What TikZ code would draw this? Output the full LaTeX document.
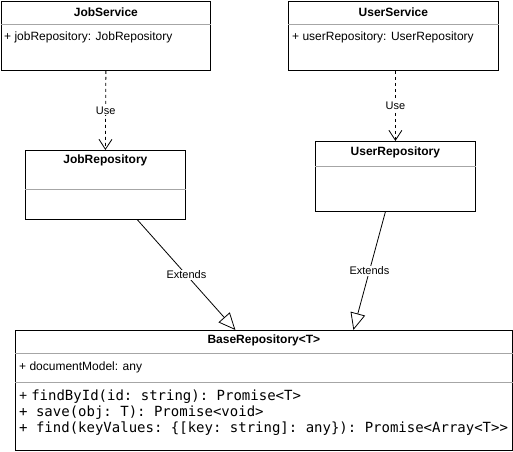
\documentclass[tikz,border=0pt]{standalone}
\usepackage{fontspec}
\setmainfont{Liberation Sans}
\setmonofont{DejaVu Sans Mono}
\usetikzlibrary{arrows.meta,positioning}
\tikzstyle{classbox}=[draw, thick, rectangle, anchor=north west, inner sep=0pt]
\tikzstyle{classname}=[font=\fontsize{12}{14}\selectfont\bfseries, inner sep=0pt]
\tikzstyle{member}=[font=\fontsize{12}{14}\selectfont, anchor=west, inner sep=0pt]
\tikzstyle{method}=[font=\fontsize{14}{16}\selectfont\ttfamily, anchor=west, inner sep=0pt]
\tikzstyle{divider}=[draw=gray!70, thick]
\tikzstyle{uses}=[dashed, thick, -{Straight Barb[length=10pt,width=13pt]}]
\tikzstyle{extends}=[thick, -{Triangle[open,length=17pt,width=15pt]}]
\tikzstyle{connlabel}=[font=\fontsize{11}{13}\selectfont, fill=white, inner sep=1pt]

\begin{document}
\begin{tikzpicture}[x=1pt, y=-1pt, >=latex]
    \useasboundingbox (0,0) rectangle (513,451);
    % class boxes
    \node [classbox, minimum width=209pt, minimum height=69pt] (jobservice) at (1,1) {};
    \node [classbox, minimum width=210pt, minimum height=69pt] (userservice) at (288,1) {};
    \node [classbox, minimum width=160pt, minimum height=69pt] (jobrepo) at (25,150) {};
    \node [classbox, minimum width=160pt, minimum height=70pt] (userrepo) at (315,141) {};
    \node [classbox, minimum width=497pt, minimum height=120pt] (baserepo) at (15,330) {};

    % names
    \node [classname, below=11pt of jobservice.north, anchor=center] (jobservice-name) {JobService};
    \node [classname, below=11pt of userservice.north, anchor=center] (userservice-name) {UserService};
    \node [classname, below=10pt of jobrepo.north, anchor=center] (jobrepo-name) {JobRepository};
    \node [classname, below=11pt of userrepo.north, anchor=center] (userrepo-name) {UserRepository};
    \node [classname, below=10pt of baserepo.north, anchor=center] (baserepo-name) {BaseRepository<T>};

    % dividers
    \draw [divider] ([yshift=-23pt]jobservice.north west) -- ([yshift=-23pt]jobservice.north east);
    \draw [divider] ([yshift=-23pt]userservice.north west) -- ([yshift=-23pt]userservice.north east);
    \draw [divider] ([yshift=-39pt]jobrepo.north west) -- ([yshift=-39pt]jobrepo.north east);
    \draw [divider] ([yshift=-25pt]userrepo.north west) -- ([yshift=-25pt]userrepo.north east);
    \draw [divider] ([yshift=-23pt]baserepo.north west) -- ([yshift=-23pt]baserepo.north east);
    \draw [divider] ([yshift=-52pt]baserepo.north west) -- ([yshift=-52pt]baserepo.north east);

    % members
    \node [member] (jobservice-attr) at (4,37) {+ jobRepository: JobRepository};
    \node [member] (userservice-attr) at (292,37) {+ userRepository: UserRepository};
    \node [member] (baserepo-attr) at (19,367) {+ documentModel: any};
    \node [method] (baserepo-find-id) at (19,397) {{\rmfamily + }findById(id: string): Promise<T>};
    \node [method] (baserepo-save) at (19,413) {+ save(obj: T): Promise<void>};
    \node [method] (baserepo-find) at (19,429) {+ find(keyValues: \{[key: string]: any\}): Promise<Array<T>{}>};

    % relations
    \draw [uses] (jobservice.south |- jobservice.south) -- (jobrepo.north)
        node [connlabel, midway] (use-job) {Use};
    \draw [uses] (userrepo.north |- userservice.south) -- (userrepo.north)
        node [connlabel, midway] (use-user) {Use};
    \draw [extends] ([xshift=32pt]jobrepo.south) -- ([xshift=-28.5pt]baserepo.north)
        node [connlabel, midway] (extends-job) {Extends};
    \draw [extends] ([xshift=-10pt]userrepo.south) -- ([xshift=89.5pt]baserepo.north)
        node [connlabel, midway] (extends-user) {Extends};
\end{tikzpicture}
\end{document}
